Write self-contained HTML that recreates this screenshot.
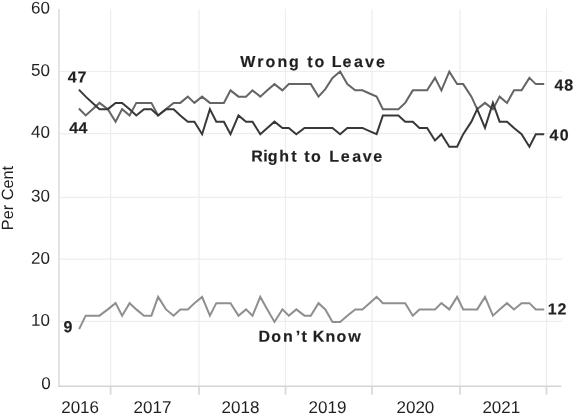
<!DOCTYPE html>
<html lang="en"><head><meta charset="utf-8"><title>Brexit hindsight tracker</title>
<style>
html,body{margin:0;padding:0;background:#fff;}
body{width:573px;height:417px;overflow:hidden;}
svg{display:block;font-family:"Liberation Sans",sans-serif;}
.ax{font-size:17px;fill:#231f20;}
.b{font-size:16px;font-weight:bold;fill:#231f20;stroke:#231f20;stroke-width:0.18px;}
</style></head><body>
<svg width="573" height="417" viewBox="0 0 573 417">
<rect width="573" height="417" fill="#fff"/>
<g stroke="#ecedf0" stroke-width="1.2" fill="none">
<line x1="59" y1="71.5" x2="562.5" y2="71.5"/>
<line x1="59" y1="133.7" x2="562.5" y2="133.7"/>
<line x1="59" y1="197.4" x2="562.5" y2="197.4"/>
<line x1="59" y1="259.1" x2="562.5" y2="259.1"/>
<line x1="59" y1="321.3" x2="562.5" y2="321.3"/>
<line x1="110.6" y1="9" x2="110.6" y2="386"/>
<line x1="199.0" y1="9" x2="199.0" y2="386"/>
<line x1="285.5" y1="9" x2="285.5" y2="386"/>
<line x1="372.0" y1="9" x2="372.0" y2="386"/>
<line x1="460.0" y1="9" x2="460.0" y2="386"/>
<line x1="546.5" y1="9" x2="546.5" y2="386"/>
</g>
<g stroke="#d9dade" stroke-width="1.8" fill="none">
<line x1="110.6" y1="386" x2="110.6" y2="394.7"/>
<line x1="199.0" y1="386" x2="199.0" y2="394.7"/>
<line x1="285.5" y1="386" x2="285.5" y2="394.7"/>
<line x1="372.0" y1="386" x2="372.0" y2="394.7"/>
<line x1="460.0" y1="386" x2="460.0" y2="394.7"/>
<line x1="546.5" y1="386" x2="546.5" y2="394.7"/>
</g>
<path d="M59 9V386.2" fill="none" stroke="#dfe0e4" stroke-width="1.8"/>
<path d="M58.1 386.2H561.3" fill="none" stroke="#d2d4d8" stroke-width="1.6"/>
<polyline points="79.6,328.18 85.7,315.66 92.6,315.66 99.5,315.66 107.8,309.40 115.6,303.15 122.1,315.66 129.6,303.15 136.3,309.40 144.0,315.66 151.4,315.66 158.1,296.89 166.0,309.40 173.6,315.66 180.3,309.40 187.8,309.40 194.4,303.15 202.1,296.89 209.9,315.66 216.3,303.15 223.9,303.15 230.5,303.15 238.5,315.66 246.0,309.40 252.5,315.66 260.3,296.89 267.3,309.40 274.5,321.92 282.4,309.40 288.8,315.66 296.3,309.40 304.5,315.66 310.8,315.66 318.5,303.15 325.3,309.40 332.5,321.92 340.1,321.92 347.3,315.66 355.2,309.40 362.4,309.40 369.5,303.15 376.6,296.89 382.9,303.15 390.5,303.15 398.4,303.15 405.2,303.15 412.8,315.66 419.4,309.40 427.1,309.40 435.0,309.40 441.4,303.15 449.3,309.40 457.1,296.89 463.2,309.40 471.4,309.40 477.2,309.40 485.0,296.89 492.9,315.66 499.6,309.40 507.0,303.15 514.0,309.40 521.6,303.15 529.4,303.15 535.8,309.40 543.2,309.40" fill="none" stroke="#8d8f93" stroke-width="2" stroke-linejoin="miter" stroke-linecap="square"/>
<polyline points="79.6,109.15 85.7,115.41 92.6,109.15 99.5,102.89 107.8,109.15 115.6,121.66 122.1,109.15 129.6,115.41 136.3,102.89 144.0,102.89 151.4,102.89 158.1,115.41 166.0,109.15 173.6,102.89 180.3,102.89 187.8,96.63 194.4,102.89 202.1,96.63 209.9,102.89 216.3,102.89 223.9,102.89 230.5,90.37 238.5,96.63 246.0,96.63 252.5,90.37 260.3,96.63 267.3,90.37 274.5,84.12 282.4,90.37 288.8,84.12 296.3,84.12 304.5,84.12 310.8,84.12 318.5,96.63 325.3,89.12 332.5,77.86 340.1,71.60 347.3,84.12 355.2,90.37 362.4,90.37 369.5,93.50 376.6,96.63 382.9,109.15 390.5,109.15 398.4,109.15 405.2,102.89 412.8,90.37 419.4,90.37 427.1,90.37 435.0,77.86 441.4,90.37 449.3,71.60 457.1,84.12 463.2,84.12 471.4,96.63 477.2,109.15 485.0,102.89 492.9,109.15 499.6,96.63 507.0,102.89 514.0,90.37 521.6,90.37 529.4,77.86 535.8,84.12 543.2,84.12" fill="none" stroke="#646567" stroke-width="2" stroke-linejoin="miter" stroke-linecap="square"/>
<polyline points="79.6,90.37 85.7,96.63 92.6,102.89 99.5,109.15 107.8,109.15 115.6,102.89 122.1,102.89 129.6,109.15 136.3,115.41 144.0,109.15 151.4,109.15 158.1,115.41 166.0,109.15 173.6,109.15 180.3,115.41 187.8,121.66 194.4,121.66 202.1,134.18 209.9,109.15 216.3,121.66 223.9,121.66 230.5,134.18 238.5,115.41 246.0,121.66 252.5,121.66 260.3,134.18 267.3,127.92 274.5,121.66 282.4,127.92 288.8,127.92 296.3,134.18 304.5,127.92 310.8,127.92 318.5,127.92 325.3,127.92 332.5,127.92 340.1,134.18 347.3,127.92 355.2,127.92 362.4,127.92 369.5,131.05 376.6,134.18 382.9,115.41 390.5,115.41 398.4,115.41 405.2,121.66 412.8,121.66 419.4,127.92 427.1,127.92 435.0,140.44 441.4,134.18 449.3,146.70 457.1,146.70 463.2,134.18 471.4,121.66 477.2,109.15 485.0,127.92 492.9,102.89 499.6,121.66 507.0,121.66 514.0,127.92 521.6,134.18 529.4,146.70 535.8,134.18 543.2,134.18" fill="none" stroke="#37383a" stroke-width="2" stroke-linejoin="miter" stroke-linecap="square"/>
<text class="ax" x="49.9" y="13.55" text-anchor="end" transform="rotate(0.05 49.9 13.55)">60</text>
<text class="ax" x="49.9" y="75.9" text-anchor="end" transform="rotate(0.05 49.9 75.9)">50</text>
<text class="ax" x="49.9" y="137.65" text-anchor="end" transform="rotate(0.05 49.9 137.65)">40</text>
<text class="ax" x="49.9" y="201.6" text-anchor="end" transform="rotate(0.05 49.9 201.6)">30</text>
<text class="ax" x="49.9" y="263.7" text-anchor="end" transform="rotate(0.05 49.9 263.7)">20</text>
<text class="ax" x="49.9" y="325.85" text-anchor="end" transform="rotate(0.05 49.9 325.85)">10</text>
<text class="ax" x="50.6" y="389.1" text-anchor="end" transform="rotate(0.05 50.6 389.1)">0</text>
<text class="ax" x="80.1" y="413.0" text-anchor="middle" transform="rotate(0.05 80.1 413.0)">2016</text>
<text class="ax" x="152.5" y="413.0" text-anchor="middle" transform="rotate(0.05 152.5 413.0)">2017</text>
<text class="ax" x="240.5" y="413.0" text-anchor="middle" transform="rotate(0.05 240.5 413.0)">2018</text>
<text class="ax" x="327.5" y="413.0" text-anchor="middle" transform="rotate(0.05 327.5 413.0)">2019</text>
<text class="ax" x="415.4" y="413.0" text-anchor="middle" transform="rotate(0.05 415.4 413.0)">2020</text>
<text class="ax" x="501.3" y="413.0" text-anchor="middle" transform="rotate(0.05 501.3 413.0)">2021</text>
<text class="ax" style="font-size:16.3px" transform="translate(13.1 198.1) rotate(-89.95)" text-anchor="middle">Per Cent</text>
<text class="b" y="67.1" transform="rotate(0.04 312 67.1)"><tspan x="240.2 257.3 265.5 277.5 289.0">Wrong</tspan> <tspan x="307.2 314.5">to</tspan> <tspan x="331.8 342.6 354.0 365.1 375.9">Leave</tspan></text>
<text class="b" y="161.65" transform="rotate(0.04 317 161.65)"><tspan x="251.2 263.15 267.7 279.3 291.2">Right</tspan> <tspan x="304.3 311.0">to</tspan> <tspan x="329.3 340.7 352.3 362.8 373.2">Leave</tspan></text>
<text class="b" y="341.75" transform="rotate(0.04 310 341.75)"><tspan x="258.5 271.25 283.0 295.7 301.45">Don’t</tspan> <tspan x="312.8 325.55 336.6 348.3">Know</tspan></text>
<text class="b" x="67.7 77.6" y="82.45" transform="rotate(0.05 67.7 82.45)">47</text>
<text class="b" x="69.2 78.4" y="133.2" transform="rotate(0.05 69.2 133.2)">44</text>
<text class="b" x="63.4" y="332.3" transform="rotate(0.05 63.4 332.3)">9</text>
<text class="b" x="554.6 564.3" y="90.6" transform="rotate(0.05 554.6 90.6)">48</text>
<text class="b" x="549.6 559.8" y="140.5" transform="rotate(0.05 549.6 140.5)">40</text>
<text class="b" x="547.8 557.4" y="314.6" transform="rotate(0.05 547.8 314.6)">12</text>
</svg></body></html>
